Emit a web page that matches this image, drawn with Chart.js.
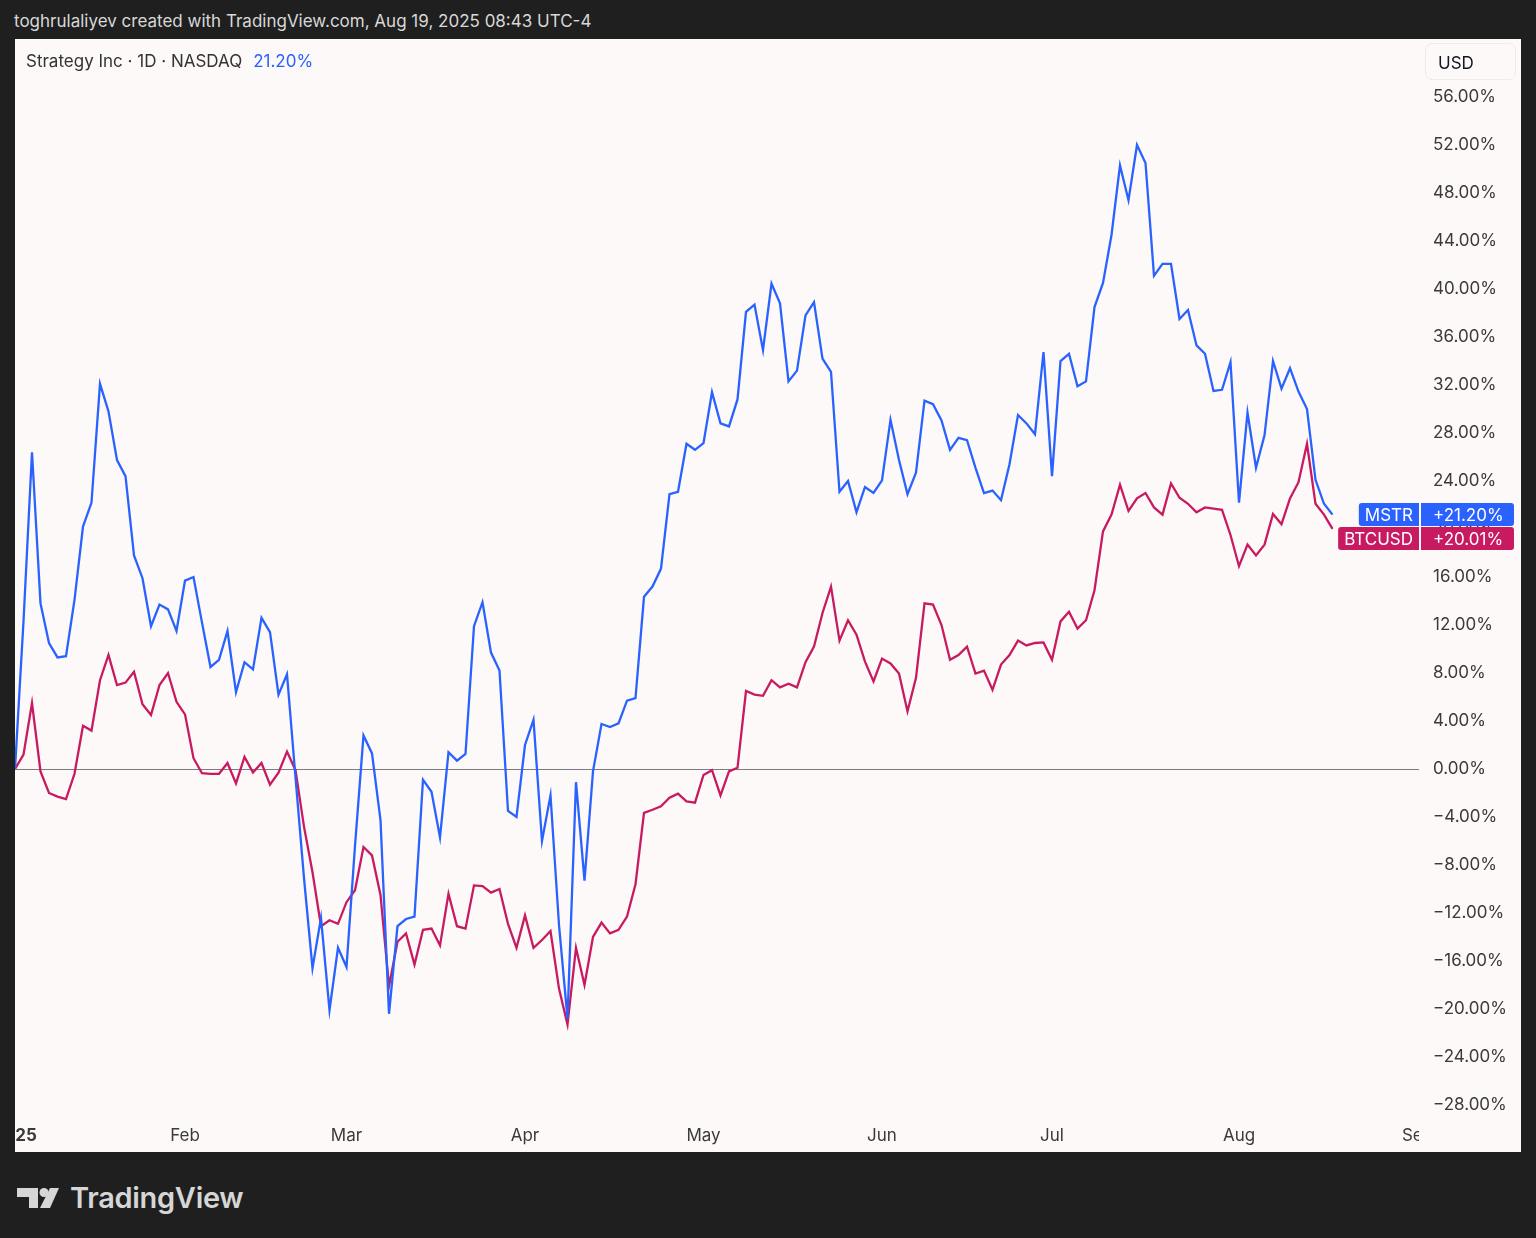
<!DOCTYPE html>
<html>
<head>
<meta charset="utf-8">
<script src="https://cdn.jsdelivr.net/npm/chart.js@4.4.0/dist/chart.umd.min.js"></script>
<style>
  html, body { margin: 0; padding: 0; background: #1f1f1f; }
  body { width: 1536px; height: 1238px; position: relative; overflow: hidden; font-family: Inter, "Noto Sans", sans-serif; }
  #header { position: absolute; left: 14px; top: 11px; color: #d8d8d8; font-size: 17px; white-space: nowrap; }
  #pane { position: absolute; left: 15px; top: 39px; width: 1506px; height: 1113px; background: #fdf9f8; }
  #pane canvas { position: absolute; left: 0; top: 0; }
  #title { position: absolute; left: 11px; top: 12px; font-size: 17px; color: #333; white-space: nowrap; }
  #title .pct { color: #2962ff; margin-left: 11px; }
  #usd { position: absolute; left: 1410px; top: 4px; width: 91px; height: 37px; border: 1px solid #eeeaea; border-radius: 7px;
         box-sizing: border-box; font-size: 17px; color: #131722; padding: 9px 0 0 12px; }
  #logo { position: absolute; left: 16px; top: 1181px; height: 32px; display: flex; align-items: center; }
  #logo span { color: #d6d6d6; font-size: 29px; font-weight: 600; margin-left: 10px; letter-spacing: -0.3px; }
</style>
</head>
<body>
<div id="header">toghrulaliyev created with TradingView.com, Aug 19, 2025 08:43 UTC-4</div>
<div id="pane">
  <canvas id="chart" width="1506" height="1113"></canvas>
  <div id="title">Strategy Inc · 1D · NASDAQ<span class="pct">21.20%</span></div>
  <div id="usd">USD</div>
</div>
<div id="logo">
  <svg width="44" height="24" viewBox="0 0 44 24">
    <path d="M1 3 H22 V23 H13 V12 H1 Z" fill="#d6d6d6"/>
    <circle cx="28" cy="7.5" r="4.5" fill="#d6d6d6"/>
    <path d="M34 3 H43 L34 23 H24 Z" fill="#d6d6d6"/>
  </svg>
  <span>TradingView</span>
</div>
<script>
// month tick labels and the bar index (trading day) where each month starts
var monthLabels = ['2025', 'Feb', 'Mar', 'Apr', 'May', 'Jun', 'Jul', 'Aug', 'Sep'];
var monthStart = [0, 20, 39, 60, 81, 102, 122, 144, 165];

// % change since Jan 2 2025, one value per NASDAQ trading day up to Aug 18
var mstr = [
  0, 12.3, 26.4, 13.8, 10.5, 9.3, 9.4, 14.1, 20.2, 22.2,
  32.1, 29.8, 25.75, 24.4, 17.8, 15.9, 11.9, 13.7, 13.3, 11.5,
  15.7, 16.0, 12.2, 8.5, 9.1, 11.5, 6.4, 8.9, 8.3, 12.6,
  11.4, 6.2, 7.9, -0.7, -9.1, -16.6, -12.4, -20.1, -14.9, -16.5,
  -6.4, 2.8, 1.3, -4.25, -20.4, -13.1, -12.5, -12.3, -0.9, -1.9,
  -5.7, 1.4, 0.7, 1.25, 11.9, 13.9, 9.7, 8.2, -3.5, -4.0,
  2.0, 4.1, -6.0, -2.2, -13.0, -20.8, -1.1, -9.3, -0.2, 3.75,
  3.5, 3.8, 5.7, 5.9, 14.35, 15.2, 16.7, 22.9, 23.1, 27.1,
  26.6, 27.15, 31.4, 28.8, 28.55, 30.8, 38.1, 38.7, 34.9, 40.45,
  38.8, 32.3, 33.2, 37.8, 38.9, 34.2, 33.1, 23.1, 24.0, 21.4,
  23.5, 23.0, 24.05, 29.1, 25.75, 22.9, 24.7, 30.7, 30.4, 29.05,
  26.6, 27.6, 27.4, 25.1, 23.0, 23.2, 22.4, 25.4, 29.5, 28.8,
  27.9, 34.75, 24.4, 34.0, 34.6, 31.9, 32.3, 38.5, 40.5, 44.5,
  50.3, 47.4, 52.0, 50.5, 41.1, 42.1, 42.1, 37.5, 38.25, 35.3,
  34.6, 31.5, 31.6, 33.9, 22.2, 29.7, 25.1, 27.8, 34.0, 31.7,
  33.4, 31.45, 30.0, 24.1, 22.1, 21.2
];
var btcusd = [
  0, 1.2, 5.5, -0.2, -2.0, -2.3, -2.5, -0.4, 3.6, 3.2,
  7.4, 9.5, 7.0, 7.2, 8.1, 5.4, 4.5, 7.0, 8.0, 5.6,
  4.55, 0.9, -0.35, -0.4, -0.4, 0.5, -1.2, 1.0, -0.3, 0.5,
  -1.3, -0.3, 1.45, -0.1, -4.8, -8.6, -13.1, -12.6, -12.9, -11.1,
  -10.1, -6.5, -7.2, -10.5, -18.1, -14.4, -13.7, -16.3, -13.4, -13.3,
  -14.7, -10.4, -13.1, -13.3, -9.7, -9.75, -10.3, -10.0, -12.9, -14.9,
  -12.2, -14.9, -14.25, -13.5, -18.3, -21.3, -14.9, -18.0, -14.0, -12.8,
  -13.7, -13.4, -12.3, -9.6, -3.65, -3.4, -3.1, -2.4, -2.05, -2.7,
  -2.8, -0.5, -0.1, -2.2, -0.2, 0.1, 6.5, 6.2, 6.1, 7.4,
  6.8, 7.1, 6.8, 8.9, 10.2, 13.0, 15.2, 10.7, 12.4, 11.2,
  8.95, 7.3, 9.2, 8.8, 7.95, 4.8, 7.6, 13.8, 13.7, 12.0,
  9.1, 9.5, 10.2, 7.95, 8.2, 6.6, 8.7, 9.5, 10.7, 10.3,
  10.5, 10.55, 9.1, 12.3, 13.1, 11.7, 12.4, 14.9, 19.8, 21.2,
  23.7, 21.5, 22.55, 23.0, 21.8, 21.2, 23.8, 22.6, 22.1, 21.4,
  21.8, 21.7, 21.6, 19.5, 16.9, 18.7, 17.8, 18.7, 21.25, 20.4,
  22.55, 23.9, 27.1, 22.1, 21.2, 20.01
];
var yTicks = [-28, -24, -20, -16, -12, -8, -4, 0, 4, 8, 12, 16, 20, 24, 28, 32, 36, 40, 44, 48, 52, 56];

var blue = '#2962ff';
var magenta = '#c81a60';
var paneBg = '#fdf9f8';
var textColor = '#3a3a3a';
var fontFamily = 'Inter, "Noto Sans", sans-serif';

function toPoints(arr) {
    return arr.map(function (v, i) { return { x: i, y: v }; });
}

function fmtPct(v) {
    var s = Math.abs(v).toFixed(2) + '%';
    return v < 0 ? '\u2212' + s : s;
}

var series = [
    { name: 'MSTR', data: mstr, color: blue },
    { name: 'BTCUSD', data: btcusd, color: magenta }
];

// price-axis tags for the last value of each series
var tagPlugin = {
    id: 'lastValueTags',
    afterDraw: function (chart) {
        var ctx = chart.ctx;
        var area = chart.chartArea;
        var yScale = chart.scales.y;
        ctx.save();
        // the time axis is clipped at the price axis, like the original
        ctx.fillStyle = paneBg;
        ctx.fillRect(area.right, area.bottom, chart.width - area.right, chart.height - area.bottom);

        ctx.font = '17px ' + fontFamily;
        ctx.textBaseline = 'middle';
        var h = 23;
        var prevBottom = -Infinity;
        var tags = series.map(function (s) {
            var last = s.data[s.data.length - 1];
            return { s: s, last: last, y: yScale.getPixelForValue(last) };
        }).sort(function (a, b) { return a.y - b.y; });
        tags.forEach(function (t) {
            var top = t.y - h / 2;
            if (top < prevBottom + 1) top = prevBottom + 1;
            prevBottom = top + h;
            var lw = ctx.measureText(t.s.name).width + 12;
            ctx.fillStyle = t.s.color;
            ctx.beginPath();
            ctx.roundRect(area.right - lw, top, lw, h, [3, 0, 0, 3]);
            ctx.fill();
            ctx.beginPath();
            ctx.roundRect(area.right + 2, top, 93, h, [0, 3, 3, 0]);
            ctx.fill();
            ctx.fillStyle = '#ffffff';
            ctx.textAlign = 'center';
            ctx.fillText(t.s.name, area.right - lw / 2, top + h / 2 + 1);
            ctx.textAlign = 'left';
            ctx.fillText((t.last >= 0 ? '+' : '\u2212') + Math.abs(t.last).toFixed(2) + '%', area.right + 14, top + h / 2 + 1);
        });
        ctx.restore();
    }
};

var ctx = document.getElementById('chart').getContext('2d');
var chart = new Chart(ctx, {
    type: 'line',
    data: {
        datasets: series.map(function (s) {
            return {
                label: s.name,
                data: toPoints(s.data),
                borderColor: s.color,
                borderWidth: 2.3,
                pointRadius: 0,
                tension: 0,
                fill: false
            };
        })
    },
    options: {
        responsive: false,
        animation: false,
        events: [],
        layout: { padding: 0, autoPadding: false },
        plugins: {
            legend: { display: false },
            tooltip: { enabled: false }
        },
        scales: {
            x: {
                type: 'linear',
                min: 0,
                max: 1404 / 8.5,
                grid: { display: false },
                border: { display: false },
                afterBuildTicks: function (scale) {
                    scale.ticks = monthStart.map(function (v) { return { value: v }; });
                },
                afterFit: function (scale) {
                    scale.height = 34;
                    scale.paddingLeft = 0;
                    scale.paddingRight = 0;
                },
                ticks: {
                    z: -1,
                    autoSkip: false,
                    maxRotation: 0,
                    padding: 0,
                    color: textColor,
                    font: function (c) {
                        return { family: fontFamily, size: 17, weight: c.index === 0 ? 'bold' : 'normal' };
                    },
                    callback: function (value) {
                        var k = monthStart.indexOf(value);
                        return k >= 0 ? monthLabels[k] : '';
                    }
                }
            },
            y: {
                position: 'right',
                min: -(1118 - 769) / 12,
                max: (769 - 39) / 12,
                border: { display: false },
                grid: {
                    drawTicks: false,
                    lineWidth: 1,
                    color: function (c) {
                        return c.tick && c.tick.value === 0 ? '#7b7b86' : 'rgba(0,0,0,0)';
                    }
                },
                afterBuildTicks: function (scale) {
                    scale.ticks = yTicks.map(function (v) { return { value: v }; });
                },
                afterFit: function (scale) {
                    scale.width = 102;
                    scale.paddingTop = 0;
                    scale.paddingBottom = 0;
                },
                ticks: {
                    padding: 14,
                    color: textColor,
                    font: { family: fontFamily, size: 17 },
                    callback: function (value) { return fmtPct(value); }
                }
            }
        }
    },
    plugins: [tagPlugin]
});
</script>
</body>
</html>
